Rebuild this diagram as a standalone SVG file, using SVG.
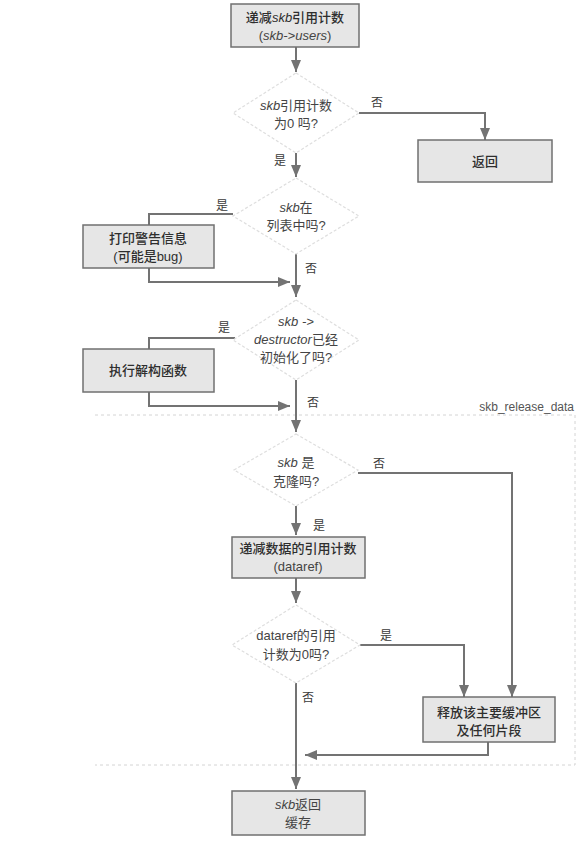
<svg xmlns="http://www.w3.org/2000/svg" width="580" height="844" viewBox="0 0 580 844">
<style>
.box{fill:#e6e6e6;stroke:#707070;stroke-width:1.5}
.dia{fill:#ffffff;stroke:#dedede;stroke-width:1.2;stroke-dasharray:3 2}
.t{font-family:"Liberation Sans","Noto Sans CJK SC",sans-serif;font-size:13px;fill:#444;text-anchor:middle}
.tb{font-family:"Liberation Sans","Noto Sans CJK SC",sans-serif;font-size:13px;fill:#2e2e2e;text-anchor:middle;font-weight:500}
.lbl{font-family:"Liberation Sans","Noto Sans CJK SC",sans-serif;font-size:12px;fill:#3a3a3a}
.i{font-style:italic}
.c{fill:none;stroke:#737373;stroke-width:2}
.ca{fill:none;stroke:#737373;stroke-width:2;marker-end:url(#ah)}
.region{fill:none;stroke:#d4d4d4;stroke-width:1;stroke-dasharray:3 3}
</style>
<defs>
<marker id="ah" viewBox="0 0 12 10" refX="12" refY="5" markerWidth="12" markerHeight="10" markerUnits="userSpaceOnUse" orient="auto">
<path d="M0,0 L12,5 L0,10 z" fill="#737373"/>
</marker>
</defs>
<rect width="580" height="844" fill="#ffffff"/>

<g id="region">
<path class="region" d="M95,415 H575 V765 H95"/>
<text class="lbl" x="574" y="411" style="text-anchor:end;fill:#555">skb_release_data</text>
</g>

<g id="connectors">
<path class="ca" d="M296,47 V72"/>
<path class="ca" d="M359,113 H485 V140"/>
<path class="ca" d="M296,153 V177"/>
<path class="c" d="M233,214 H149 V225"/>
<path class="ca" d="M149,268 V282 H290"/>
<path class="ca" d="M296,254 V297"/>
<path class="c" d="M235,338 H149 V349"/>
<path class="ca" d="M149,392 V406 H290"/>
<path class="ca" d="M296,380 V432"/>
<path class="ca" d="M358,473 H512 V697"/>
<path class="ca" d="M296,506 V535"/>
<path class="ca" d="M296,578 V603"/>
<path class="ca" d="M360,645 H464 V697"/>
<path class="ca" d="M296,683 V789"/>
<path class="ca" d="M488,742 V755 H305"/>
<text class="lbl" x="371" y="107">否</text>
<text class="lbl" x="274" y="165">是</text>
<text class="lbl" x="216" y="210">是</text>
<text class="lbl" x="305" y="273">否</text>
<text class="lbl" x="218" y="332">是</text>
<text class="lbl" x="307" y="407">否</text>
<text class="lbl" x="373" y="468">否</text>
<text class="lbl" x="313" y="530">是</text>
<text class="lbl" x="380" y="640">是</text>
<text class="lbl" x="302" y="702">否</text>
</g>

<g id="n1">
<rect class="box" x="231" y="4" width="128" height="43"/>
<text class="tb" x="295" y="22">递减<tspan class="i">skb</tspan>引用计数</text>
<text class="t" x="295" y="40">(<tspan class="i">skb-&gt;users</tspan>)</text>
</g>

<g id="d1">
<polygon class="dia" points="296,73 359,113 296,153 233,113"/>
<text class="t" x="296" y="110"><tspan class="i">skb</tspan>引用计数</text>
<text class="t" x="296" y="128">为0 吗?</text>
</g>

<g id="n_return">
<rect class="box" x="418" y="140" width="134" height="42"/>
<text class="tb" x="485" y="166">返回</text>
</g>

<g id="d2">
<polygon class="dia" points="296,178 359,216 296,254 233,216"/>
<text class="t" x="296" y="212"><tspan class="i">skb</tspan>在</text>
<text class="t" x="296" y="230">列表中吗?</text>
</g>

<g id="n_print">
<rect class="box" x="83" y="225" width="131" height="43"/>
<text class="tb" x="148" y="243">打印警告信息</text>
<text class="tb" x="148" y="261">(可能是bug)</text>
</g>

<g id="d3">
<polygon class="dia" points="296,300 359,340 296,380 233,340"/>
<text class="t" x="296" y="326"><tspan class="i">skb -&gt;</tspan></text>
<text class="t" x="296" y="344"><tspan class="i">destructor</tspan>已经</text>
<text class="t" x="296" y="362">初始化了吗?</text>
</g>

<g id="n_destructor">
<rect class="box" x="83" y="349" width="131" height="43"/>
<text class="tb" x="148" y="375">执行解构函数</text>
</g>

<g id="d4">
<polygon class="dia" points="296,434 358,470 296,506 234,470"/>
<text class="t" x="296" y="467"><tspan class="i">skb</tspan> 是</text>
<text class="t" x="296" y="486">克隆吗?</text>
</g>

<g id="n_decr">
<rect class="box" x="232" y="537" width="133" height="41"/>
<text class="tb" x="298" y="553">递减数据的引用计数</text>
<text class="t" x="298" y="571">(dataref)</text>
</g>

<g id="d5">
<polygon class="dia" points="296,605 360,645 296,683 232,645"/>
<text class="t" x="296" y="640">dataref的引用</text>
<text class="t" x="296" y="659">计数为0吗?</text>
</g>

<g id="n_release">
<rect class="box" x="423" y="697" width="132" height="45"/>
<text class="tb" x="489" y="717">释放该主要缓冲区</text>
<text class="tb" x="489" y="735">及任何片段</text>
</g>

<g id="n_cache">
<rect class="box" x="232" y="791" width="133" height="44"/>
<text class="t" x="298" y="809"><tspan class="i">skb</tspan>返回</text>
<text class="t" x="298" y="827">缓存</text>
</g>
</svg>
